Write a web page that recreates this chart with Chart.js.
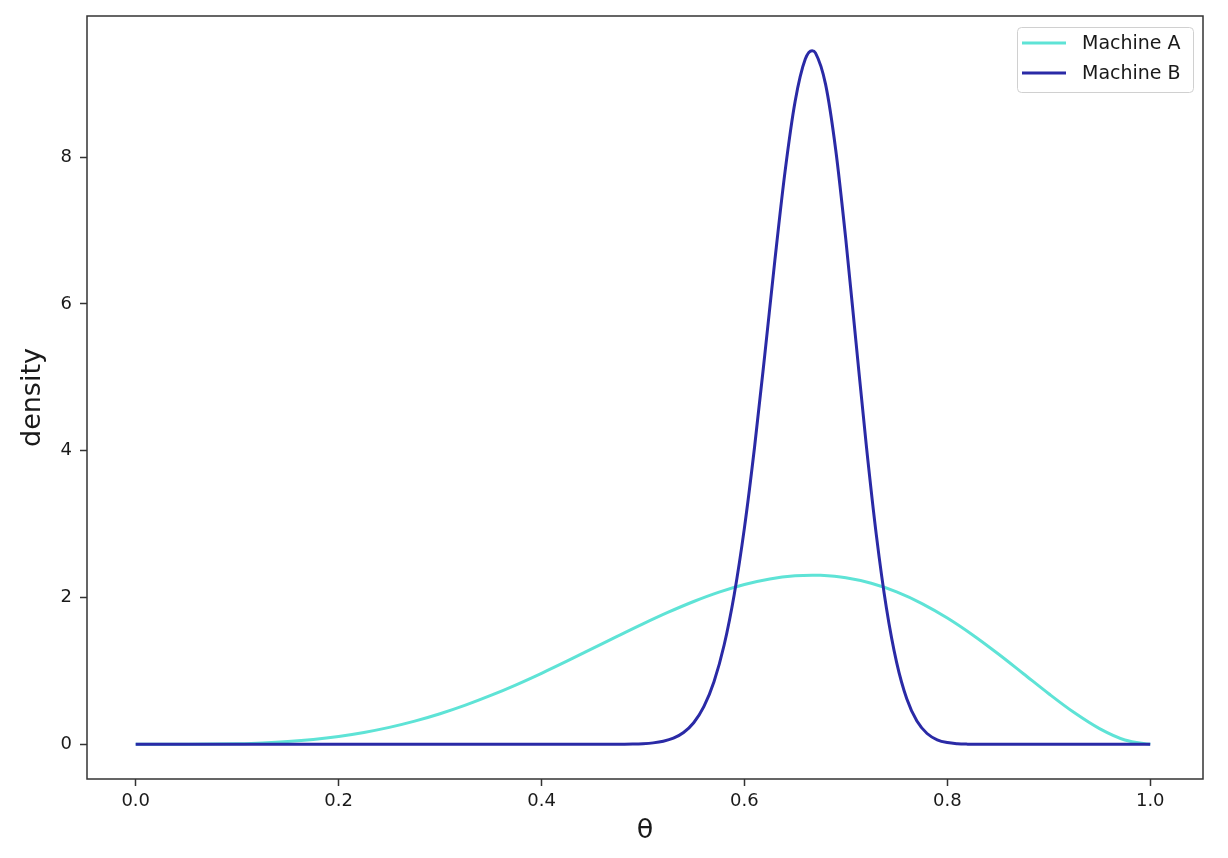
<!DOCTYPE html>
<html lang="en">
<head>
    <meta charset="UTF-8">
    <title>Machine A vs Machine B</title>
    <script src="https://cdn.jsdelivr.net/npm/chart.js@4.4.1/dist/chart.umd.min.js"></script>
    <style>
        html, body {
            margin: 0;
            padding: 0;
            background: #fff;
        }
        #chart {
            display: block;
        }
    </style>
</head>
<body>
    <canvas id="chart" width="1228" height="858"></canvas>
    <script>
        // values
        var seriesNames = ['Machine A', 'Machine B'];

        var thetaA = [0, 0.025, 0.05, 0.075, 0.1, 0.125, 0.15, 0.175, 0.2, 0.225, 0.25, 0.275, 0.3, 0.325,
            0.35, 0.375, 0.4, 0.425, 0.45, 0.475, 0.5, 0.525, 0.55, 0.575, 0.6, 0.625, 0.65, 0.6667, 0.675,
            0.7, 0.725, 0.75, 0.775, 0.8, 0.825, 0.85, 0.875, 0.9, 0.925, 0.95, 0.975, 1.0];
        var densityA = [0, 0.0000, 0.0006, 0.0028, 0.0085, 0.0196, 0.0384, 0.0670, 0.1075, 0.1616, 0.2307,
            0.3156, 0.4167, 0.5337, 0.6657, 0.8111, 0.9677, 1.1326, 1.3025, 1.4733, 1.6406, 1.7997, 1.9457,
            2.0732, 2.1773, 2.2531, 2.2960, 2.3045, 2.3023, 2.2689, 2.1939, 2.0764, 1.9176, 1.7203, 1.4896,
            1.2332, 0.9617, 0.6889, 0.4324, 0.2138, 0.0593, 0];

        var thetaB = [0, 0.1, 0.2, 0.3, 0.4, 0.45, 0.47, 0.49, 0.50, 0.51, 0.52, 0.53, 0.54, 0.55, 0.56,
            0.57, 0.58, 0.59, 0.60, 0.61, 0.62, 0.63, 0.64, 0.65, 0.66, 0.6667, 0.67, 0.68, 0.69, 0.70, 0.71,
            0.72, 0.73, 0.74, 0.75, 0.76, 0.77, 0.78, 0.79, 0.80, 0.81, 0.82, 0.83, 0.84, 0.86, 0.9, 1.0];
        var densityB = [0, 0, 0, 0, 0, 0.0001, 0.0006, 0.0038, 0.0089, 0.0198, 0.0417, 0.0838, 0.1609,
            0.2941, 0.5127, 0.8528, 1.3529, 2.0458, 2.9493, 4.0510, 5.2982, 6.5934, 7.7992, 8.7615, 9.3356,
            9.45, 9.4206, 8.9907, 8.0972, 6.8692, 5.4751, 4.0890, 2.8530, 1.8528, 1.1157, 0.6200, 0.3164,
            0.1473, 0.0621, 0.0236, 0.0080, 0.0024, 0.0006, 0.0001, 0, 0, 0];

        var xTicks = [0, 0.2, 0.4, 0.6, 0.8, 1.0];
        var yTicks = [0, 2, 4, 6, 8];

        function toPoints(xs, ys) {
            return xs.map(function (x, i) { return { x: x, y: ys[i] }; });
        }

        var tickFont = { family: 'DejaVu Sans', size: 18 };
        var titleFont = { family: 'DejaVu Sans', size: 27 };
        var ink = '#333';
        var textInk = '#1a1a1a';

        // box round the plot area, like the matplotlib spines
        var frame = {
            id: 'frame',
            afterDatasetsDraw: function (chart) {
                var a = chart.chartArea, ctx = chart.ctx;
                ctx.save();
                ctx.strokeStyle = ink;
                ctx.lineWidth = 1.5;
                ctx.strokeRect(a.left, a.top, a.right - a.left, a.bottom - a.top);
                ctx.restore();
            }
        };

        // legend box in the top right corner of the plot
        var cornerLegend = {
            id: 'cornerLegend',
            afterDraw: function (chart) {
                var a = chart.chartArea, ctx = chart.ctx;
                var w = 176, h = 65;
                var x0 = a.right - 10 - w, y0 = a.top + 11;
                ctx.save();
                ctx.fillStyle = 'rgba(255,255,255,0.85)';
                ctx.strokeStyle = '#d0d0d0';
                ctx.lineWidth = 1;
                ctx.beginPath();
                ctx.roundRect(x0 + 0.5, y0 + 0.5, w, h, 4);
                ctx.fill();
                ctx.stroke();
                ctx.font = '19px "DejaVu Sans"';
                ctx.textBaseline = 'middle';
                chart.data.datasets.forEach(function (ds, i) {
                    var y = y0 + 16 + i * 30;
                    ctx.strokeStyle = ds.borderColor;
                    ctx.lineWidth = 3;
                    ctx.beginPath();
                    ctx.moveTo(x0 + 5, y);
                    ctx.lineTo(x0 + 49, y);
                    ctx.stroke();
                    ctx.fillStyle = textInk;
                    ctx.fillText(ds.label, x0 + 65, y + 1);
                });
                ctx.restore();
            }
        };

        // fixed axis boxes so the plot area sits where the reference has it
        function fitX(axis) {
            axis.height = 79;
            axis.paddingLeft = 0;
            axis.paddingRight = 0;
        }
        function fitY(axis) {
            axis.width = 87;
            axis.paddingTop = 0;
            axis.paddingBottom = 0;
        }

        var ctx = document.getElementById('chart').getContext('2d');
        var myChart = new Chart(ctx, {
            type: 'line',
            data: {
                datasets: [{
                    label: seriesNames[0],
                    data: toPoints(thetaA, densityA),
                    borderColor: '#5ee3d6',
                    borderWidth: 3,
                    order: 1
                }, {
                    label: seriesNames[1],
                    data: toPoints(thetaB, densityB),
                    borderColor: '#2a2aa6',
                    borderWidth: 3,
                    order: 0
                }]
            },
            options: {
                responsive: false,
                animation: false,
                parsing: false,
                elements: {
                    point: { radius: 0 },
                    line: { cubicInterpolationMode: 'monotone', fill: false }
                },
                layout: {
                    padding: { top: 16, right: 25, left: 0, bottom: 0 }
                },
                plugins: {
                    legend: { display: false },
                    tooltip: { enabled: false }
                },
                scales: {
                    x: {
                        type: 'linear',
                        min: -0.048,
                        max: 1.052,
                        afterBuildTicks: function (axis) {
                            axis.ticks = xTicks.map(function (v) { return { value: v }; });
                        },
                        afterFit: fitX,
                        border: { display: false },
                        grid: {
                            drawOnChartArea: false,
                            drawTicks: true,
                            tickLength: 7,
                            tickWidth: 1.5,
                            tickColor: ink
                        },
                        ticks: {
                            font: tickFont,
                            color: textInk,
                            padding: 5,
                            maxRotation: 0,
                            callback: function (v) { return v.toFixed(1); }
                        },
                        title: {
                            display: true,
                            text: 'θ',
                            font: titleFont,
                            color: textInk,
                            padding: { top: 0, bottom: 11 }
                        }
                    },
                    y: {
                        type: 'linear',
                        min: -0.4725,
                        max: 9.9225,
                        afterBuildTicks: function (axis) {
                            axis.ticks = yTicks.map(function (v) { return { value: v }; });
                        },
                        afterFit: fitY,
                        border: { display: false },
                        grid: {
                            drawOnChartArea: false,
                            drawTicks: true,
                            tickLength: 7,
                            tickWidth: 1.5,
                            tickColor: ink
                        },
                        ticks: {
                            font: tickFont,
                            color: textInk,
                            padding: 8,
                            callback: function (v) { return String(v); }
                        },
                        title: {
                            display: true,
                            text: 'density',
                            font: titleFont,
                            color: textInk,
                            padding: { top: 17, bottom: 0 }
                        }
                    }
                }
            },
            plugins: [frame, cornerLegend]
        });
    </script>
</body>
</html>
